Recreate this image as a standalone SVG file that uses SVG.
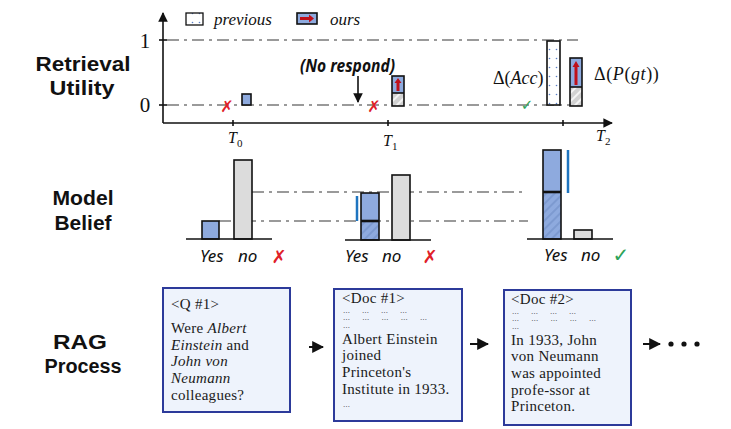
<svg xmlns="http://www.w3.org/2000/svg" width="731" height="429" viewBox="0 0 731 429">
<style>
.lbl{font-family:"Liberation Sans",Arial,sans-serif;font-weight:700;font-size:20px;fill:#111;text-anchor:middle}
.hw{font-family:"Noto Sans",sans-serif;font-style:italic;font-size:17px;fill:#111}
.ser{font-family:"Liberation Serif","Times New Roman",serif;fill:#111}
.box{fill:#eef3fc;stroke:#2c3a9a;stroke-width:2}
.bt{font-family:"Liberation Serif","Times New Roman",serif;font-size:15px;letter-spacing:0.3px;fill:#1a1a1a}
.dt{font-family:"Liberation Serif","Times New Roman",serif;font-size:7px;fill:#111}
.dd{stroke:#9a9a9a;stroke-width:2;stroke-dasharray:12 5 3 5;fill:none}
.bar{stroke:#111;stroke-width:1.6}
.blue{fill:#8eaade}
.gray{fill:#dcdcdc}
.ax{stroke:#111;stroke-width:1.6;fill:none}
.red{fill:#c0101a}
.bk{stroke:#1f75c0;stroke-width:2.5;fill:none}
.xm{font-family:"DejaVu Sans",sans-serif;fill:#e02028;text-anchor:middle}
.ck{font-family:"DejaVu Sans",sans-serif;fill:#2ea35a;text-anchor:middle}
</style>
<defs>
<pattern id="hg" width="6" height="6" patternUnits="userSpaceOnUse" patternTransform="rotate(45)"><rect width="6" height="6" fill="#d2d2d2"/><line x1="1" y1="0" x2="1" y2="6" stroke="#f4f4f4" stroke-width="2"/></pattern>
<pattern id="hb" width="6" height="6" patternUnits="userSpaceOnUse" patternTransform="rotate(45)"><rect width="6" height="6" fill="#8eaade"/><line x1="1" y1="0" x2="1" y2="6" stroke="#7795cc" stroke-width="1.5"/></pattern>
<pattern id="dots" width="7" height="9" patternUnits="userSpaceOnUse"><rect width="7" height="9" fill="#fff"/><circle cx="3.5" cy="4.5" r="0.8" fill="#5b7fc8"/></pattern>
<marker id="ah" viewBox="0 0 10 10" refX="9" refY="5" markerWidth="6" markerHeight="6" orient="auto-start-reverse"><path d="M0,0 L10,5 L0,10 z" fill="#111"/></marker>
</defs>

<!-- row labels -->
<g id="label-retrieval">
<text class="lbl" x="83" y="71" textLength="95" lengthAdjust="spacingAndGlyphs">Retrieval</text>
<text class="lbl" x="82" y="95" textLength="65" lengthAdjust="spacingAndGlyphs">Utility</text>
</g>
<g id="label-belief">
<text class="lbl" x="83" y="205" textLength="61" lengthAdjust="spacingAndGlyphs">Model</text>
<text class="lbl" x="83" y="230" textLength="57" lengthAdjust="spacingAndGlyphs">Belief</text>
</g>
<g id="label-rag">
<text class="lbl" x="80" y="349" textLength="54" lengthAdjust="spacingAndGlyphs">RAG</text>
<text class="lbl" x="83" y="373" textLength="77" lengthAdjust="spacingAndGlyphs">Process</text>
</g>

<!-- Retrieval utility chart -->
<g id="utility-chart">
<line class="dd" x1="167" y1="40" x2="578" y2="40"/>
<line class="dd" x1="167" y1="105" x2="580" y2="105"/>
<line class="ax" x1="163" y1="123" x2="163" y2="13" marker-end="url(#ah)"/>
<line class="ax" x1="163" y1="123" x2="612" y2="123" marker-end="url(#ah)"/>
<line class="ax" x1="159" y1="40" x2="167" y2="40"/>
<line class="ax" x1="159" y1="105" x2="167" y2="105"/>
<line class="ax" x1="233" y1="120" x2="233" y2="126"/>
<line class="ax" x1="388" y1="120" x2="388" y2="126"/>
<line class="ax" x1="563" y1="120" x2="563" y2="126"/>
<text class="ser" x="145" y="48" font-size="21" text-anchor="middle">1</text>
<text class="ser" x="145" y="112" font-size="21" text-anchor="middle">0</text>
<text class="ser" x="228" y="143" font-size="16" font-style="italic">T<tspan font-size="11" font-style="normal" dy="4">0</tspan></text>
<text class="ser" x="383" y="146" font-size="16" font-style="italic">T<tspan font-size="11" font-style="normal" dy="4">1</tspan></text>
<text class="ser" x="596" y="141" font-size="16" font-style="italic">T<tspan font-size="11" font-style="normal" dy="4">2</tspan></text>
</g>

<g id="legend">
<rect x="186" y="13" width="17" height="12" fill="url(#dots)" stroke="#111" stroke-width="1.3"/>
<text class="ser" x="214" y="25" font-size="17" font-style="italic">previous</text>
<rect x="297" y="13" width="20" height="11" class="blue" stroke="#111" stroke-width="1.6"/>
<path class="red" d="M300,17 H309 V14.5 L314,18.5 L309,22.5 V20 H300 z"/>
<text class="ser" x="330" y="25" font-size="17" font-style="italic">ours</text>
</g>

<g id="t0-utility">
<text class="xm" x="227" y="112" font-size="16" font-style="italic">✗</text>
<rect class="bar blue" x="242" y="94" width="9" height="11"/>
</g>

<g id="t1-utility">
<text class="hw" x="300" y="72" font-weight="700" font-size="15.5" textLength="95" lengthAdjust="spacingAndGlyphs">(No respond)</text>
<line class="ax" x1="358" y1="76" x2="358" y2="102" marker-end="url(#ah)"/>
<text class="xm" x="374" y="112" font-size="16" font-style="italic">✗</text>
<rect x="392" y="93" width="12" height="13" fill="url(#hg)"/>
<rect x="392" y="76" width="12" height="17" class="blue"/>
<path class="red" d="M396.5,91 V83 H394.5 L398,78 L401.5,83 H399.5 V91 z"/>
<rect class="bar" x="392" y="76" width="12" height="30" fill="none"/>
<line x1="392" y1="93" x2="404" y2="93" stroke="#111" stroke-width="1.6"/>
</g>

<g id="t2-utility">
<text class="ser" x="493" y="84" font-size="18">Δ(<tspan font-style="italic">Acc</tspan>)</text>
<text class="ck" x="527" y="110" font-size="15">✓</text>
<rect class="bar" x="547" y="41" width="13" height="64" fill="url(#dots)"/>
<rect x="570" y="87" width="12" height="19" fill="url(#hg)"/>
<rect x="570" y="58" width="12" height="29" class="blue"/>
<path class="red" d="M574.5,85 V67 H572.5 L576,61 L579.5,67 H577.5 V85 z"/>
<rect class="bar" x="570" y="58" width="12" height="48" fill="none"/>
<line x1="570" y1="87" x2="582" y2="87" stroke="#111" stroke-width="1.6"/>
<text class="ser" x="594" y="80" font-size="18" letter-spacing="0.6">Δ(<tspan font-style="italic">P</tspan>(<tspan font-style="italic">gt</tspan>))</text>
</g>

<!-- Model belief -->
<g id="belief-guides">
<line class="dd" x1="252" y1="192" x2="523" y2="192"/>
<line class="dd" x1="219" y1="221" x2="528" y2="221"/>
</g>

<g id="belief-t0">
<rect class="bar blue" x="202" y="221" width="17" height="18"/>
<rect class="bar gray" x="234" y="160" width="18" height="79"/>
<line class="ax" x1="186" y1="239" x2="272" y2="239"/>
<text class="hw" x="200" y="262">Yes</text>
<text class="hw" x="238" y="262">no</text>
<text class="xm" x="279" y="263" font-size="18" font-style="italic">✗</text>
</g>

<g id="belief-t1">
<rect x="361" y="221" width="18" height="19" fill="url(#hb)"/>
<rect x="361" y="193" width="18" height="28" class="blue"/>
<rect class="bar" x="361" y="193" width="18" height="47" fill="none"/>
<line x1="361" y1="221" x2="379" y2="221" stroke="#111" stroke-width="2.6"/>
<rect class="bar gray" x="392" y="175" width="18" height="65"/>
<line class="ax" x1="345" y1="240" x2="431" y2="240"/>
<path class="bk" d="M357,196 V221"/>
<text class="hw" x="345" y="262">Yes</text>
<text class="hw" x="382" y="262">no</text>
<text class="xm" x="430" y="263" font-size="18" font-style="italic">✗</text>
</g>

<g id="belief-t2">
<rect x="543" y="192" width="18" height="47" fill="url(#hb)"/>
<rect x="543" y="150" width="18" height="42" class="blue"/>
<rect class="bar" x="543" y="150" width="18" height="89" fill="none"/>
<line x1="543" y1="192" x2="561" y2="192" stroke="#111" stroke-width="2.6"/>
<rect class="bar gray" x="574" y="230" width="18" height="9"/>
<line class="ax" x1="527" y1="239" x2="613" y2="239"/>
<path class="bk" d="M568,150 V193"/>
<text class="hw" x="544" y="261">Yes</text>
<text class="hw" x="581" y="261">no</text>
<text class="ck" x="621" y="262" font-size="20">✓</text>
</g>

<!-- RAG process -->
<g id="box-q1">
<rect class="box" x="163" y="288" width="127" height="124"/>
<text class="bt" x="171" y="309">&lt;Q #1&gt;</text>
<text class="bt" x="171" y="333">Were <tspan font-style="italic">Albert</tspan></text>
<text class="bt" x="171" y="349.7"><tspan font-style="italic">Einstein</tspan> and</text>
<text class="bt" x="171" y="366.4"><tspan font-style="italic">John von</tspan></text>
<text class="bt" x="171" y="383.1"><tspan font-style="italic">Neumann</tspan></text>
<text class="bt" x="171" y="399.8">colleagues?</text>
</g>

<g id="box-doc1">
<rect class="box" x="334" y="289" width="128" height="132"/>
<text class="bt" x="342" y="303">&lt;Doc #1&gt;</text>
<text class="dt" x="343" y="312.5" textLength="64" lengthAdjust="spacing">… … … …</text>
<text class="dt" x="343" y="320.4" textLength="84" lengthAdjust="spacing">… … … … …</text>
<text class="dt" x="343" y="328.3">…</text>
<text class="bt" x="342" y="343.5">Albert Einstein</text>
<text class="bt" x="342" y="360.2">joined</text>
<text class="bt" x="342" y="376.9">Princeton's</text>
<text class="bt" x="342" y="393.6">Institute in 1933.</text>
<text class="dt" x="343" y="406.5" font-size="11">…</text>
</g>

<g id="box-doc2">
<rect class="box" x="504" y="290" width="127" height="135"/>
<text class="bt" x="511" y="304">&lt;Doc #2&gt;</text>
<text class="dt" x="512" y="313.5" textLength="64" lengthAdjust="spacing">… … … …</text>
<text class="dt" x="512" y="321.4" textLength="84" lengthAdjust="spacing">… … … … …</text>
<text class="dt" x="512" y="329.3">…</text>
<text class="bt" x="511" y="344.5">In 1933, John</text>
<text class="bt" x="511" y="361.2">von Neumann</text>
<text class="bt" x="511" y="377.9">was appointed</text>
<text class="bt" x="511" y="394.6">profe-ssor at</text>
<text class="bt" x="511" y="411.3">Princeton.</text>
</g>

<g id="more">
<circle cx="671" cy="344" r="2.6" fill="#111"/>
<circle cx="684" cy="344" r="2.6" fill="#111"/>
<circle cx="697" cy="344" r="2.6" fill="#111"/>
</g>

<g id="connectors">
<line x1="309" y1="347" x2="323" y2="347" stroke="#111" stroke-width="2" marker-end="url(#ah)"/>
<line x1="470" y1="344" x2="488" y2="344" stroke="#111" stroke-width="2" marker-end="url(#ah)"/>
<line x1="643" y1="344" x2="660" y2="344" stroke="#111" stroke-width="2" marker-end="url(#ah)"/>
</g>
</svg>
